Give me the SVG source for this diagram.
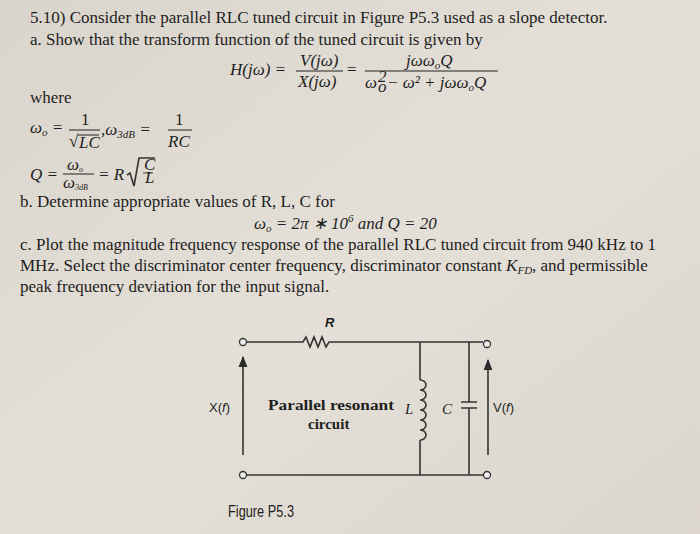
<svg xmlns="http://www.w3.org/2000/svg" width="700" height="534" viewBox="0 0 700 534">
<defs>
<linearGradient id="bg" x1="0" y1="0" x2="1" y2="1"><stop offset="0" stop-color="#d9d4cc"/><stop offset="0.5" stop-color="#e4e0d8"/><stop offset="1" stop-color="#dcd6cc"/></linearGradient>
<marker id="ah" viewBox="0 0 10 10" refX="9" refY="5" markerWidth="7" markerHeight="9" orient="auto"><path d="M0,1 L10,5 L0,9 z" fill="#2a2a2a"/></marker>
</defs>
<style>
text{font-family:"Liberation Serif",serif;fill:#1e1e1e;font-size:17px}
.m{font-style:italic}
.sans{font-family:"Liberation Sans",sans-serif}
.w{stroke:#333;stroke-width:1.6;fill:none}
.t{stroke:#333;stroke-width:1.3;fill:#eee}
</style>
<rect width="700" height="534" fill="url(#bg)"/>
<text x="30" y="23">5.10) Consider the parallel RLC tuned circuit in Figure P5.3 used as a slope detector.</text>
<text x="30" y="45">a. Show that the transform function of the tuned circuit is given by</text>
<g id="eq1">
<text x="230" y="75" class="m">H(jω) =</text>
<text x="300" y="66" class="m" font-size="15">V(jω)</text>
<line x1="296" y1="71" x2="343" y2="71" stroke="#222"/>
<text x="298" y="87" class="m" font-size="15">X(jω)</text>
<text x="347" y="75">=</text>
<text x="406" y="66" class="m" font-size="15">jωω<tspan font-size="11" dy="3">o</tspan><tspan dy="-3">Q</tspan></text>
<line x1="365" y1="71" x2="498" y2="71" stroke="#222"/>
<text x="365" y="88" class="m" font-size="15">ω</text>
<text x="378" y="82" class="m" font-size="8">2</text>
<text x="378" y="92" class="m" font-size="8">o</text>
<text x="387" y="88" class="m" font-size="15">− ω² + jωω<tspan font-size="11" dy="3">o</tspan><tspan dy="-3">Q</tspan></text>
</g>
<text x="30" y="103">where</text>
<g id="eq2">
<text x="30" y="133" class="m">ω<tspan font-size="11" dy="3">o</tspan><tspan dy="-3"> =</tspan></text>
<text x="81" y="125" font-size="15">1</text>
<line x1="69" y1="130" x2="100" y2="130" stroke="#222"/>
<text x="69" y="147" font-size="14">√</text>
<line x1="78" y1="135" x2="99" y2="135" stroke="#222"/>
<text x="79" y="148" class="m" font-size="14">LC</text>
<text x="101" y="135" class="m">,ω<tspan font-size="11" dy="3">3dB</tspan><tspan dy="-3"> =</tspan></text>
<text x="175" y="125" font-size="15">1</text>
<line x1="168" y1="130" x2="192" y2="130" stroke="#222"/>
<text x="168" y="147" class="m" font-size="14">RC</text>
<text x="30" y="180" class="m">Q =</text>
<text x="67" y="170" class="m" font-size="11">ω<tspan font-size="8" dy="2">o</tspan></text>
<line x1="63" y1="174" x2="94" y2="174" stroke="#222"/>
<text x="63" y="188" class="m" font-size="11">ω<tspan font-size="8" dy="2">3dB</tspan></text>
<text x="98" y="180" class="m">= R</text>
<path d="M127,175 l3,-2 l4,13 l5,-28 h16" class="w" stroke-width="1"/>
<text x="144" y="170" class="m" font-size="9">C</text>
<line x1="143" y1="173" x2="153" y2="173" stroke="#222" stroke-width="0.8"/>
<text x="145" y="183" class="m" font-size="9">L</text>
</g>
<text x="20" y="207">b. Determine appropriate values of R, L, C for</text>
<text x="254" y="229" class="m">ω<tspan font-size="11" dy="3">o</tspan><tspan dy="-3"> = 2π ∗ 10</tspan><tspan font-size="11" dy="-7">6</tspan><tspan dy="7"> and Q = 20</tspan></text>
<text x="20" y="250">c. Plot the magnitude frequency response of the parallel RLC tuned circuit from 940 kHz to 1</text>
<text x="20" y="271">MHz. Select the discriminator center frequency, discriminator constant <tspan class="m">K</tspan><tspan class="m" font-size="11" dy="3">FD</tspan><tspan dy="-3">, and permissible</tspan></text>
<text x="20" y="292">peak frequency deviation for the input signal.</text>
<g id="connectors">
<path class="w" d="M247,342 H303 l3,-5 l4,10 l4,-10 l4,10 l4,-10 l4,10 l3,-5 H483"/>
<path class="w" d="M247,475 H483"/>
<path class="w" d="M420,342 V380 M420,440 V475"/>
<path class="w" d="M420,380 a6,5 0 1 1 0,10 a6,5 0 1 1 0,10 a6,5 0 1 1 0,10 a6,5 0 1 1 0,10 a6,5 0 1 1 0,10 a6,5 0 1 1 0,10"/>
<path class="w" d="M469,342 V402 M461,402 H477 M461,408 H477 M469,408 V475"/>
<line class="w" x1="243" y1="455" x2="243" y2="357" marker-end="url(#ah)"/>
<line class="w" x1="488" y1="455" x2="488" y2="360" marker-end="url(#ah)"/>
</g>
<g id="terminals">
<circle class="t" cx="243" cy="342" r="3.5"/><circle class="t" cx="487" cy="344" r="3.5"/>
<circle class="t" cx="243" cy="475" r="3.5"/><circle class="t" cx="487" cy="475" r="3.5"/>
</g>
<g id="labels">
<text x="325" y="327" class="sans m" font-weight="bold" style="font-size:13px">R</text>
<text x="268" y="410" font-weight="bold" style="font-size:15px" textLength="126" lengthAdjust="spacingAndGlyphs">Parallel resonant</text>
<text x="308" y="429" font-weight="bold" style="font-size:15px">circuit</text>
<text x="405" y="414" class="m" style="font-size:15px">L</text>
<text x="442" y="414" class="m" style="font-size:15px">C</text>
<text x="209" y="412" class="sans" style="font-size:13px">X(<tspan font-style="italic">f</tspan>)</text>
<text x="493" y="412" class="sans" style="font-size:13px">V(<tspan font-style="italic">f</tspan>)</text>
<text x="228" y="517" class="sans" style="font-size:17px" textLength="66" lengthAdjust="spacingAndGlyphs">Figure P5.3</text>
</g>
</svg>
